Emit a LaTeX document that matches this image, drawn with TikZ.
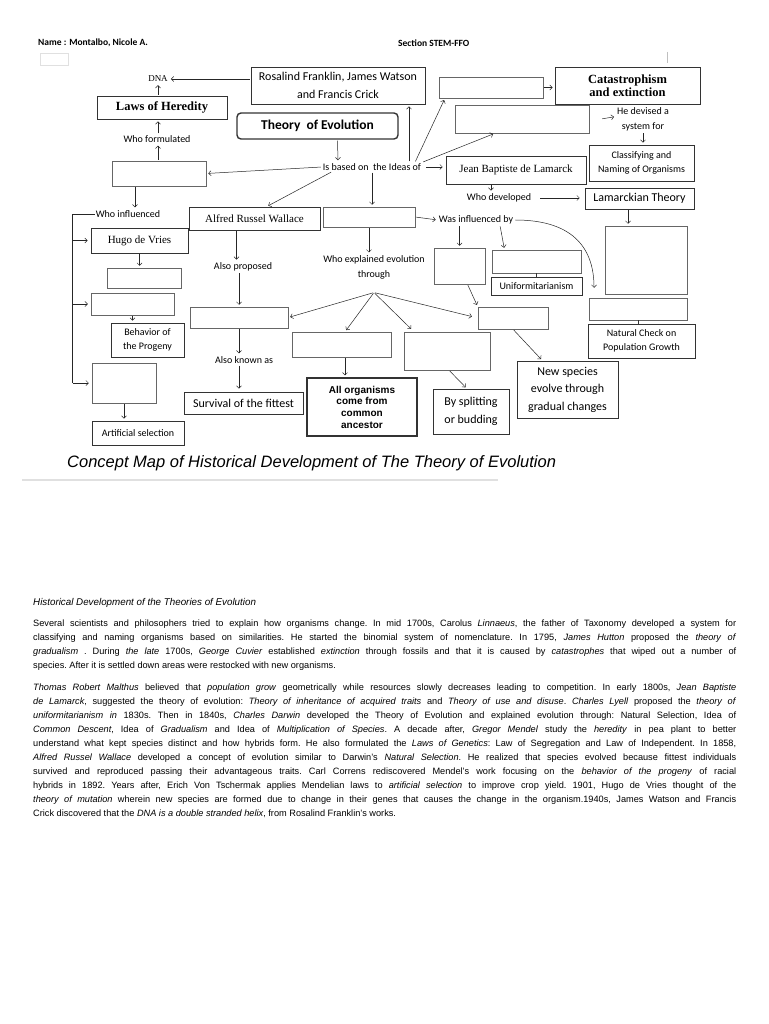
\documentclass[tikz,border=0pt]{standalone}
\usepackage{fontspec}
\setmainfont{Liberation Sans}
\newfontfamily\calib{Carlito}
\newfontfamily\tnr{Liberation Serif}
\usetikzlibrary{arrows.meta, positioning}

\begin{document}
\begin{tikzpicture}[x=1pt, y=-1pt,
    lbl/.style={inner sep=1pt, align=center,
        font=\calib\fontsize{10}{15}\selectfont},
    box/.style={rectangle, draw=black!80, line width=0.6pt, inner sep=1pt,
        align=center, font=\calib\fontsize{10}{14}\selectfont},
    sbox/.style={box, font=\tnr\fontsize{11}{13}\selectfont},
    blank/.style={rectangle, draw=black!60, line width=0.5pt, inner sep=0pt},
    arrow/.style={-{Straight Barb[length=2.5pt,width=5pt]}, line width=0.5pt,
        draw=black!85, shorten >=2pt, shorten <=1pt},
    bodytext/.style={anchor=north west, text width=703pt, align=justify,
        inner sep=0pt, font=\frenchspacing\fontsize{9.2}{14}\selectfont}
]
\fill[white] (0,0) rectangle (768,1024);
\useasboundingbox (0,0) rectangle (768,1024);
% header
\node[anchor=west, inner sep=0pt, font=\calib\bfseries\fontsize{9.5}{11}\selectfont]
    (name) at (38,43) {Name : Montalbo, Nicole A.};
\node[anchor=west, inner sep=0pt, font=\calib\bfseries\fontsize{9.5}{11}\selectfont]
    (sect) at (398,43) {Section STEM-FFO};
\draw[black!12] (40,53) rectangle (68,65);
\draw[black!25] (667,52) -- (667,63);

% top part
\node[lbl, font=\tnr\fontsize{9}{10}\selectfont] (dna) at (158,79) {DNA};
\node[box, minimum width=174pt, minimum height=37pt,
    font=\calib\fontsize{12}{18}\selectfont] (rfjc) at (338,85.5)
    {Rosalind Franklin, James Watson\\and Francis Crick};
\node[box, minimum width=130pt, minimum height=23pt,
    font=\tnr\bfseries\fontsize{12.5}{14}\selectfont] (hered) at (162,107.5)
    {Laws of Heredity};
\node[box, rounded corners=4pt, line width=1.4pt, minimum width=161pt,
    minimum height=26pt, font=\calib\bfseries\fontsize{13.5}{16}\selectfont]
    (theory) at (317.5,126) {Theory \ of Evolution};
\node[lbl] (formul) at (157,139) {Who formulated};
\node[blank, minimum width=94pt, minimum height=25pt] (mendel) at (159,173.5) {};
\node[lbl] (based) at (372,167) {Is based on \ the Ideas of};
\node[blank, minimum width=104pt, minimum height=21pt] (cuvier) at (491,87.5) {};
\node[box, line width=0.9pt, minimum width=145pt, minimum height=37pt,
    font=\tnr\bfseries\fontsize{12.5}{13}\selectfont] (catas) at (627.5,85.5)
    {Catastrophism\\and extinction};
\node[blank, minimum width=134pt, minimum height=28pt] (linn) at (522,119) {};
\node[lbl] (devised) at (643,119.5) {He devised a\\system for};
\node[box, minimum width=105pt, minimum height=36pt] (classif) at (641.5,163)
    {Classifying and\\Naming of Organisms};
\node[sbox, minimum width=140pt, minimum height=28pt] (lamarck) at (516,170)
    {Jean Baptiste de Lamarck};
\node[lbl] (devel) at (499,198) {Who developed};
\node[box, minimum width=109pt, minimum height=21pt,
    font=\calib\fontsize{12}{14}\selectfont] (lamth) at (639.5,198.5)
    {Lamarckian Theory};
\node[blank, minimum width=82pt, minimum height=68pt] (malthus) at (646,260) {};
\node[blank, minimum width=98pt, minimum height=22pt] (malth2) at (638,309) {};
\node[box, minimum width=107pt, minimum height=34pt] (check) at (641.5,341)
    {Natural Check on\\Population Growth};

% left column
\node[lbl] (influ) at (128,214) {Who influenced};
\node[sbox, minimum width=97pt, minimum height=25pt] (hugo) at (139.5,240.5)
    {Hugo de Vries};
\node[blank, minimum width=74pt, minimum height=20pt] (mutat) at (144,278) {};
\node[blank, minimum width=83pt, minimum height=22pt] (correns) at (132.5,304) {};
\node[box, minimum width=73pt, minimum height=34pt] (progeny) at (147.5,340)
    {Behavior of\\the Progeny};
\node[blank, minimum width=64pt, minimum height=40pt] (tscher) at (124,383) {};
\node[box, minimum width=92pt, minimum height=24pt] (artsel) at (138,433)
    {Artificial selection};

% middle
\node[sbox, minimum width=131pt, minimum height=23pt] (wallace) at (254.5,218.5)
    {Alfred Russel Wallace};
\node[lbl] (alsoprop) at (243,267) {Also proposed};
\node[blank, minimum width=98pt, minimum height=21pt] (natsel) at (239,317.5) {};
\node[lbl] (alsoknown) at (244,360) {Also known as};
\node[box, minimum width=119pt, minimum height=22pt,
    font=\calib\fontsize{12}{14}\selectfont] (fittest) at (243.5,403)
    {Survival of the fittest};
\node[blank, minimum width=92pt, minimum height=20pt] (darwin) at (369,217) {};
\node[lbl] (explain) at (374,267.5) {Who explained evolution\\through};
\coordinate[below=12pt of explain] (hub);
\node[blank, minimum width=99pt, minimum height=25pt] (descent) at (341.5,344.5) {};
\node[box, line width=1.1pt, minimum width=110pt, minimum height=58pt,
    font=\bfseries\fontsize{10}{11.7}\selectfont] (common) at (362,407)
    {All organisms\\come from\\common\\ancestor};
\node[blank, minimum width=86pt, minimum height=38pt] (multi) at (447,351) {};
\node[box, minimum width=76pt, minimum height=45pt,
    font=\calib\fontsize{12}{18}\selectfont] (split) at (471,411.5)
    {By splitting\\or budding};
\node[blank, minimum width=70pt, minimum height=22pt] (gradual) at (513,318) {};
\node[box, minimum width=101pt, minimum height=57pt,
    font=\calib\fontsize{12}{17.5}\selectfont] (newsp) at (567.5,389.5)
    {New species\\evolve through\\gradual changes};
\node[lbl] (wasinf) at (476,220) {Was influenced by};
\node[blank, minimum width=51pt, minimum height=36pt] (hutton) at (459.5,266) {};
\node[blank, minimum width=89pt, minimum height=23pt] (lyell) at (536.5,261.5) {};
\node[box, minimum width=91pt, minimum height=18pt, below=4pt of lyell]
    (uniform) {Uniformitarianism};

% arrows
\draw[arrow] (rfjc.west |- dna) -- (dna);
\draw[arrow] (hered.north -| dna) -- (dna.south);
\draw[arrow] (formul.north -| dna) -- (hered.south -| dna);
\draw[arrow] (mendel.north -| dna) -- (formul.south -| dna);
\draw[arrow] ([xshift=20pt]theory.south) -- ([xshift=-34pt]based.north);
\draw[arrow] ([xshift=37pt]based.north) -- ([xshift=71pt]rfjc.south);
\draw[arrow] ([xshift=43pt]based.north) -- ([xshift=-46pt]cuvier.south);
\draw[arrow] (based.north east) -- ([xshift=-27pt]linn.south);
\draw[arrow, shorten <=4pt, shorten >=3pt] (based.east) -- (based.east -| lamarck.west);
\draw[arrow] (based.west) -- (mendel.east);
\draw[arrow] ([xshift=-40pt]based.south) -- ([xshift=12pt]wallace.north);
\draw[arrow] (based.south) -- (based.south |- darwin.north);
\draw[arrow] (cuvier.east) -- (cuvier.east -| catas.west);
\draw[arrow] ([xshift=12pt]linn.east) -- ([yshift=3pt]devised.west);
\draw[arrow] (devised.south) -- (devised.south |- classif.north);
\draw[arrow] ([xshift=-25pt]lamarck.south) -- ([xshift=-8pt]devel.north);
\draw[arrow, shorten <=8pt, shorten >=5pt] (devel.east) -- (devel.east -| lamth.west);
\draw[arrow] ([xshift=-11.5pt]lamth.south) -- ([xshift=-11.5pt]lamth.south |- malthus.north);
\draw[black!80] (malth2.south) -- (malth2.south |- check.north);
\draw[arrow] (darwin.east) -- (wasinf.west);
\draw[arrow] (wasinf.east) .. controls +(55,0) and +(0,-45) .. ([xshift=-44pt,yshift=8pt]malth2.north);
\draw[arrow] (wasinf.south -| hutton) -- (hutton.north);
\draw[arrow] ([xshift=24pt]wasinf.south) -- ([xshift=-32pt]lyell.north);
\draw[black!80] (lyell.south) -- (uniform.north);
\draw[arrow] ([xshift=8pt]hutton.south) -- (gradual.north west);
% left bracket
\draw[arrow] ([xshift=-24pt]mendel.south) -- ([xshift=-24pt]mendel.south |- influ.north);
\coordinate (spine) at ([xshift=-19pt]hugo.west);
\draw[black!85] (influ.west) -| (spine |- tscher.west);
\foreach \n in {hugo, correns, tscher}
    \draw[arrow, shorten >=3pt] (spine |- \n.west) -- (\n.west);
\draw[arrow] (hugo.south) -- (hugo.south |- mutat.north);
\draw[arrow] (correns.south) -- (correns.south |- progeny.north);
\draw[arrow] (tscher.south) -- (tscher.south |- artsel.north);
% middle column
\draw[arrow] ([xshift=-18pt]wallace.south) -- ([xshift=-18pt]wallace.south |- alsoprop.north);
\draw[arrow] (alsoprop.south -| natsel) -- (natsel.north);
\draw[arrow] (natsel.south) -- (natsel.south |- alsoknown.north);
\draw[arrow, shorten >=3pt] (natsel.south |- alsoknown.south) -- (natsel.south |- fittest.north);
\draw[arrow] (darwin.south) -- (darwin.south |- explain.north);
\draw[arrow] (hub) -- (natsel.east);
\draw[arrow] (hub) -- ([xshift=3.5pt]descent.north);
\draw[arrow, shorten >=4pt] (hub) -- ([xshift=-33pt]multi.north);
\draw[arrow, shorten >=6pt] (hub) -- (gradual.west);
\draw[arrow] ([xshift=3.5pt]descent.south) -- ([xshift=3.5pt]descent.south |- common.north);
\draw[arrow] ([xshift=2pt]multi.south) -- ([xshift=-4pt]split.north);
\draw[arrow] (gradual.south) -- ([xshift=-25pt]newsp.north);

% caption and text
\node[anchor=west, inner sep=0pt, font=\itshape\fontsize{16.5}{20}\selectfont]
    (caption) at (67,463)
    {Concept Map of Historical Development of The Theory of Evolution};
\draw[black!12, line width=1.5pt] (22,480) -- (498,480);
\node[anchor=west, inner sep=0pt, font=\itshape\fontsize{9.8}{11}\selectfont]
    (head) at (33,603) {Historical Development of the Theories of Evolution};
\node[bodytext] (para1) at (33,620)
    {\tolerance=10000 \hbadness=10000
    Several scientists and philosophers tried to explain how organisms change. In mid 1700s, Carolus \textit{Linnaeus}, the father of Taxonomy developed a system for\linebreak
    classifying and naming organisms based on similarities. He started the binomial system of nomenclature. In 1795, \textit{James Hutton} proposed the \textit{theory of}\linebreak
    \textit{gradualism} . During \textit{the late} 1700s, \textit{George Cuvier} established \textit{extinction} through fossils and that it is caused by \textit{catastrophes} that wiped out a number of\linebreak
    species. After it is settled down areas were restocked with new organisms.};
\node[bodytext] (para2) at (33,684)
    {\tolerance=10000 \hbadness=10000
    \textit{Thomas Robert Malthus} believed that \textit{population grow} geometrically while resources slowly decreases leading to competition. In early 1800s, \textit{Jean Baptiste}\linebreak
    \textit{de Lamarck}, suggested the theory of evolution: \textit{Theory of inheritance of acquired traits} and \textit{Theory of use and disuse}. \textit{Charles Lyell} proposed the \textit{theory of}\linebreak
    \textit{uniformitarianism in} 1830s. Then in 1840s, \textit{Charles Darwin} developed the Theory of Evolution and explained evolution through: Natural Selection, Idea of\linebreak
    \textit{Common Descent}, Idea of \textit{Gradualism} and Idea of \textit{Multiplication of Species}. A decade after, \textit{Gregor Mendel} study the \textit{heredity} in pea plant to better\linebreak
    understand what kept species distinct and how hybrids form. He also formulated the \textit{Laws of Genetics}: Law of Segregation and Law of Independent. In 1858,\linebreak
    \textit{Alfred Russel Wallace} developed a concept of evolution similar to Darwin's \textit{Natural Selection}. He realized that species evolved because fittest individuals\linebreak
    survived and reproduced passing their advantageous traits. Carl Correns rediscovered Mendel's work focusing on the \textit{behavior of the progeny} of racial\linebreak
    hybrids in 1892. Years after, Erich Von Tschermak applies Mendelian laws to \textit{artificial selection} to improve crop yield. 1901, Hugo de Vries thought of the\linebreak
    \textit{theory of mutation} wherein new species are formed due to change in their genes that causes the change in the organism.1940s, James Watson and Francis\linebreak
    Crick discovered that the \textit{DNA is a double stranded helix}, from Rosalind Franklin's works.};
\end{tikzpicture}
\end{document}
